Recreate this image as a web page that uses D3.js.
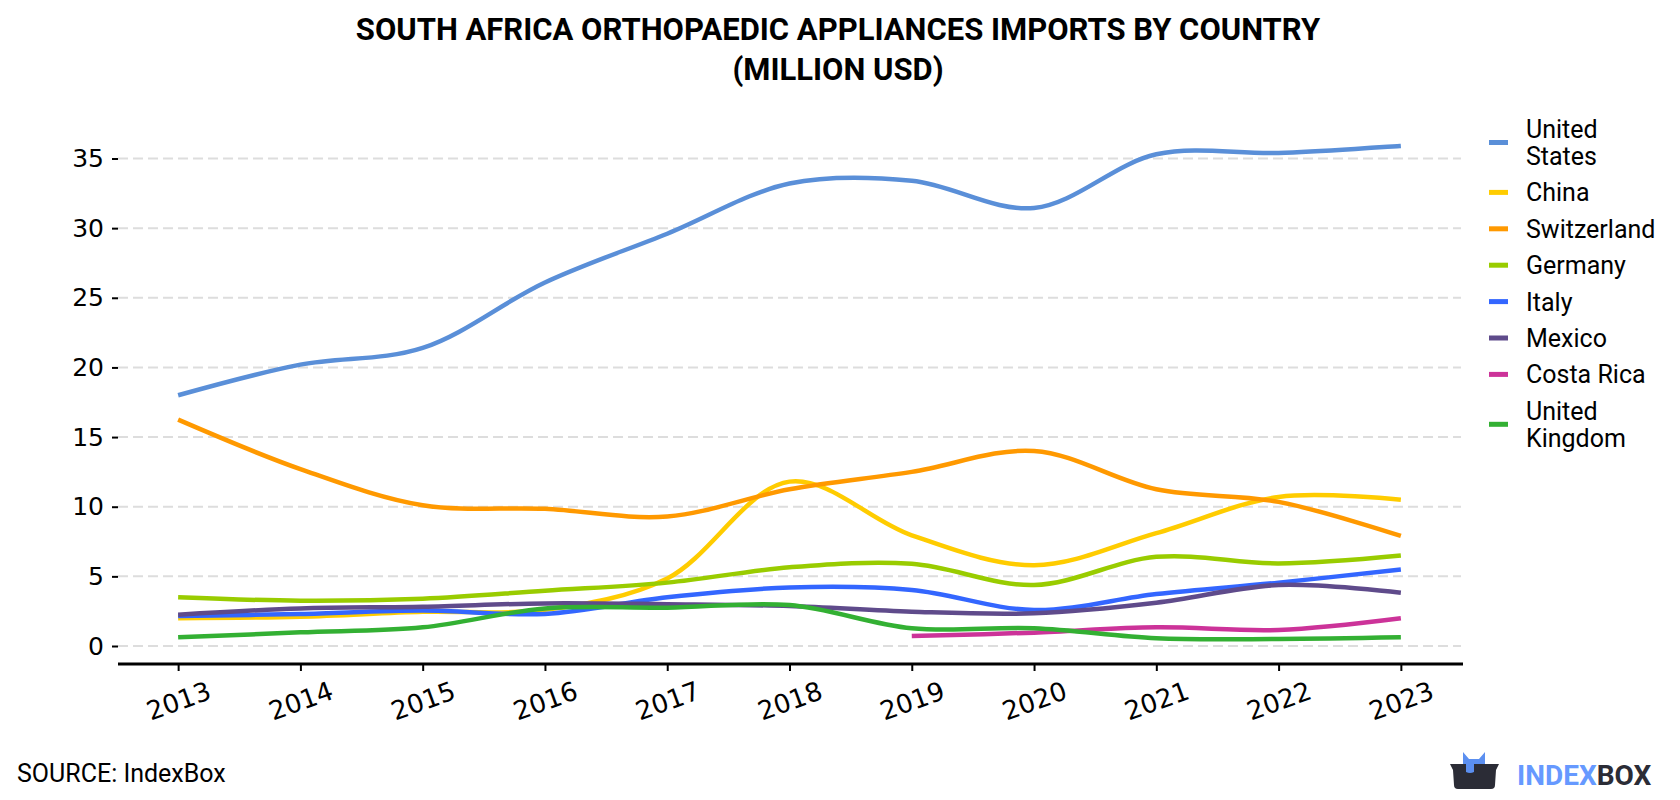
<!DOCTYPE html>
<html>
<head>
<meta charset="utf-8">
<script src="https://cdn.jsdelivr.net/npm/d3@7"></script>
<style>
  body { margin: 0; background: #fff; }
  svg { display: block; }
</style>
</head>
<body>
<svg id="chart"></svg>
<script>
// data
let years = [2013, 2014, 2015, 2016, 2017, 2018, 2019, 2020, 2021, 2022, 2023]
let countries = ['United States', 'China', 'Switzerland', 'Germany', 'Italy', 'Mexico', 'Costa Rica', 'United Kingdom']
let colors = ['#5a8fd8', '#ffcc00', '#ff9900', '#99cc00', '#3366ff', '#5f4b8b', '#cc3399', '#33b033']

let unitedStates  = [18.0, 20.2, 21.4, 26.1, 29.6, 33.2, 33.4, 31.45, 35.3, 35.4, 35.9]
let china         = [2.0, 2.1, 2.45, 2.6, 4.85, 11.8, 7.95, 5.8, 8.1, 10.7, 10.5]
let switzerland   = [16.25, 12.7, 10.1, 9.85, 9.3, 11.25, 12.5, 14.0, 11.25, 10.35, 7.9]
let germany       = [3.5, 3.25, 3.4, 3.97, 4.55, 5.65, 5.9, 4.38, 6.4, 5.93, 6.5]
let italy         = [2.15, 2.3, 2.55, 2.3, 3.5, 4.2, 4.02, 2.58, 3.73, 4.55, 5.5]
let mexico        = [2.25, 2.7, 2.82, 3.06, 3.0, 2.87, 2.46, 2.35, 3.11, 4.38, 3.83]
let costaRica     = [null, null, null, null, null, null, 0.72, 0.96, 1.34, 1.15, 1.99]
let unitedKingdom = [0.62, 0.98, 1.34, 2.7, 2.75, 2.94, 1.27, 1.27, 0.55, 0.5, 0.62]

let seriesValues = [unitedStates, china, switzerland, germany, italy, mexico, costaRica, unitedKingdom]
let yTicks = [0, 5, 10, 15, 20, 25, 30, 35]

let width = 1680
let height = 800

let svg = d3.select('#chart')
            .attr('width', width)
            .attr('height', height)

let xScale = d3.scaleLinear()
               .domain([2012.5, 2023.5])
               .range([117, 1462])

let yScale = d3.scaleLinear()
               .domain([0, 35])
               .range([646, 158.5])

let axisY = 664

// title
let title = svg.append('text')
               .attr('x', 838)
               .attr('text-anchor', 'middle')
               .style('font-family', 'Roboto')
               .style('font-weight', 'bold')
               .style('font-size', '31px')
               .attr('fill', '#000')
title.append('tspan').attr('x', 838).attr('y', 40).text('SOUTH AFRICA ORTHOPAEDIC APPLIANCES IMPORTS BY COUNTRY')
title.append('tspan').attr('x', 838).attr('y', 80).text('(MILLION USD)')

// grid + y axis
let yAxis = d3.axisLeft(yScale)
              .tickValues(yTicks)
              .tickSize(6)
              .tickPadding(8)

let yg = svg.append('g')
            .attr('transform', 'translate(118, 0)')
            .call(yAxis)
yg.select('.domain').remove()
yg.selectAll('.tick line').attr('stroke', '#000').attr('stroke-width', 2)
yg.selectAll('.tick text')
  .style('font-family', 'DejaVu Sans')
  .style('font-size', '25px')
  .attr('fill', '#000')

svg.append('g')
   .selectAll('line')
   .data(yTicks)
   .enter()
   .append('line')
   .attr('x1', 118)
   .attr('x2', 1461)
   .attr('y1', (d) => yScale(d))
   .attr('y2', (d) => yScale(d))
   .attr('stroke', '#dddddd')
   .attr('stroke-width', 2)
   .attr('stroke-dasharray', '10,5')

// x axis
let xAxis = d3.axisBottom(xScale)
              .tickValues(years)
              .tickFormat(d3.format('d'))
              .tickSize(7)
              .tickSizeOuter(0)

let xg = svg.append('g')
            .attr('transform', 'translate(0, ' + axisY + ')')
            .call(xAxis)
xg.select('.domain').attr('stroke', '#000').attr('stroke-width', 3)
  .attr('d', 'M118,0H1463')
xg.selectAll('.tick line').attr('stroke', '#000').attr('stroke-width', 2)
xg.selectAll('.tick text')
  .style('font-family', 'DejaVu Sans')
  .style('font-size', '26px')
  .attr('fill', '#000')
  .attr('text-anchor', 'middle')
  .attr('dominant-baseline', 'central')
  .attr('y', 0)
  .attr('dy', 0)
  .attr('transform', 'translate(0, 37) rotate(-20)')

// lines
let line = d3.line()
             .defined((d) => d[1] != null)
             .x((d) => xScale(d[0]))
             .y((d) => yScale(d[1]))
             .curve(d3.curveCatmullRom)

svg.append('g')
   .selectAll('path')
   .data(seriesValues)
   .enter()
   .append('path')
   .attr('d', (vals) => line(years.map((y, i) => [y, vals[i]])))
   .attr('fill', 'none')
   .attr('stroke', (d, i) => colors[i])
   .attr('stroke-width', 4.5)

// legend
let legendY = 110.8
countries.forEach((name, i) => {
  let lines = name.length > 12 ? name.split(' ') : [name]
  let h = 36.4 + (lines.length - 1) * 27
  let cy = legendY + h / 2
  svg.append('rect')
     .attr('x', 1489)
     .attr('y', cy - 2.5)
     .attr('width', 19)
     .attr('height', 5)
     .attr('fill', colors[i])
  let t = svg.append('text')
             .style('font-family', 'Roboto')
             .style('font-size', '25px')
             .attr('fill', '#000')
             .attr('dominant-baseline', 'central')
  lines.forEach((l, j) => {
    t.append('tspan')
     .attr('x', 1526)
     .attr('y', cy + (j - (lines.length - 1) / 2) * 27)
     .text(l)
  })
  legendY += h
})

// source
svg.append('text')
   .attr('x', 17)
   .attr('y', 773)
   .attr('dominant-baseline', 'central')
   .style('font-family', 'Roboto')
   .style('font-size', '25px')
   .attr('fill', '#000')
   .text('SOURCE: IndexBox')

// logo
let logo = svg.append('g')
logo.append('path')
    .attr('d', 'M1463,770 L1463,752 L1469,759 L1479,759 L1485,752 L1485,770 Z')
    .attr('fill', '#5b8ff0')
logo.append('path')
    .attr('d', 'M1450,764 L1499,764 L1496,770 L1495,785 Q1495,789 1491,789 L1458,789 Q1454,789 1454,785 L1453,770 Z')
    .attr('fill', '#2b2c36')
logo.append('path')
    .attr('d', 'M1466,764 L1474,764 L1474,772 Q1470,774 1466,772 Z')
    .attr('fill', '#5b8ff0')
let lt = logo.append('text')
             .attr('x', 1517)
             .attr('y', 775)
             .attr('dominant-baseline', 'central')
             .style('font-family', 'Roboto')
             .style('font-weight', 'bold')
             .style('font-size', '28px')
lt.append('tspan').attr('fill', '#6699ff').text('INDEX')
lt.append('tspan').attr('fill', '#2b2c36').text('BOX')
</script>
</body>
</html>
